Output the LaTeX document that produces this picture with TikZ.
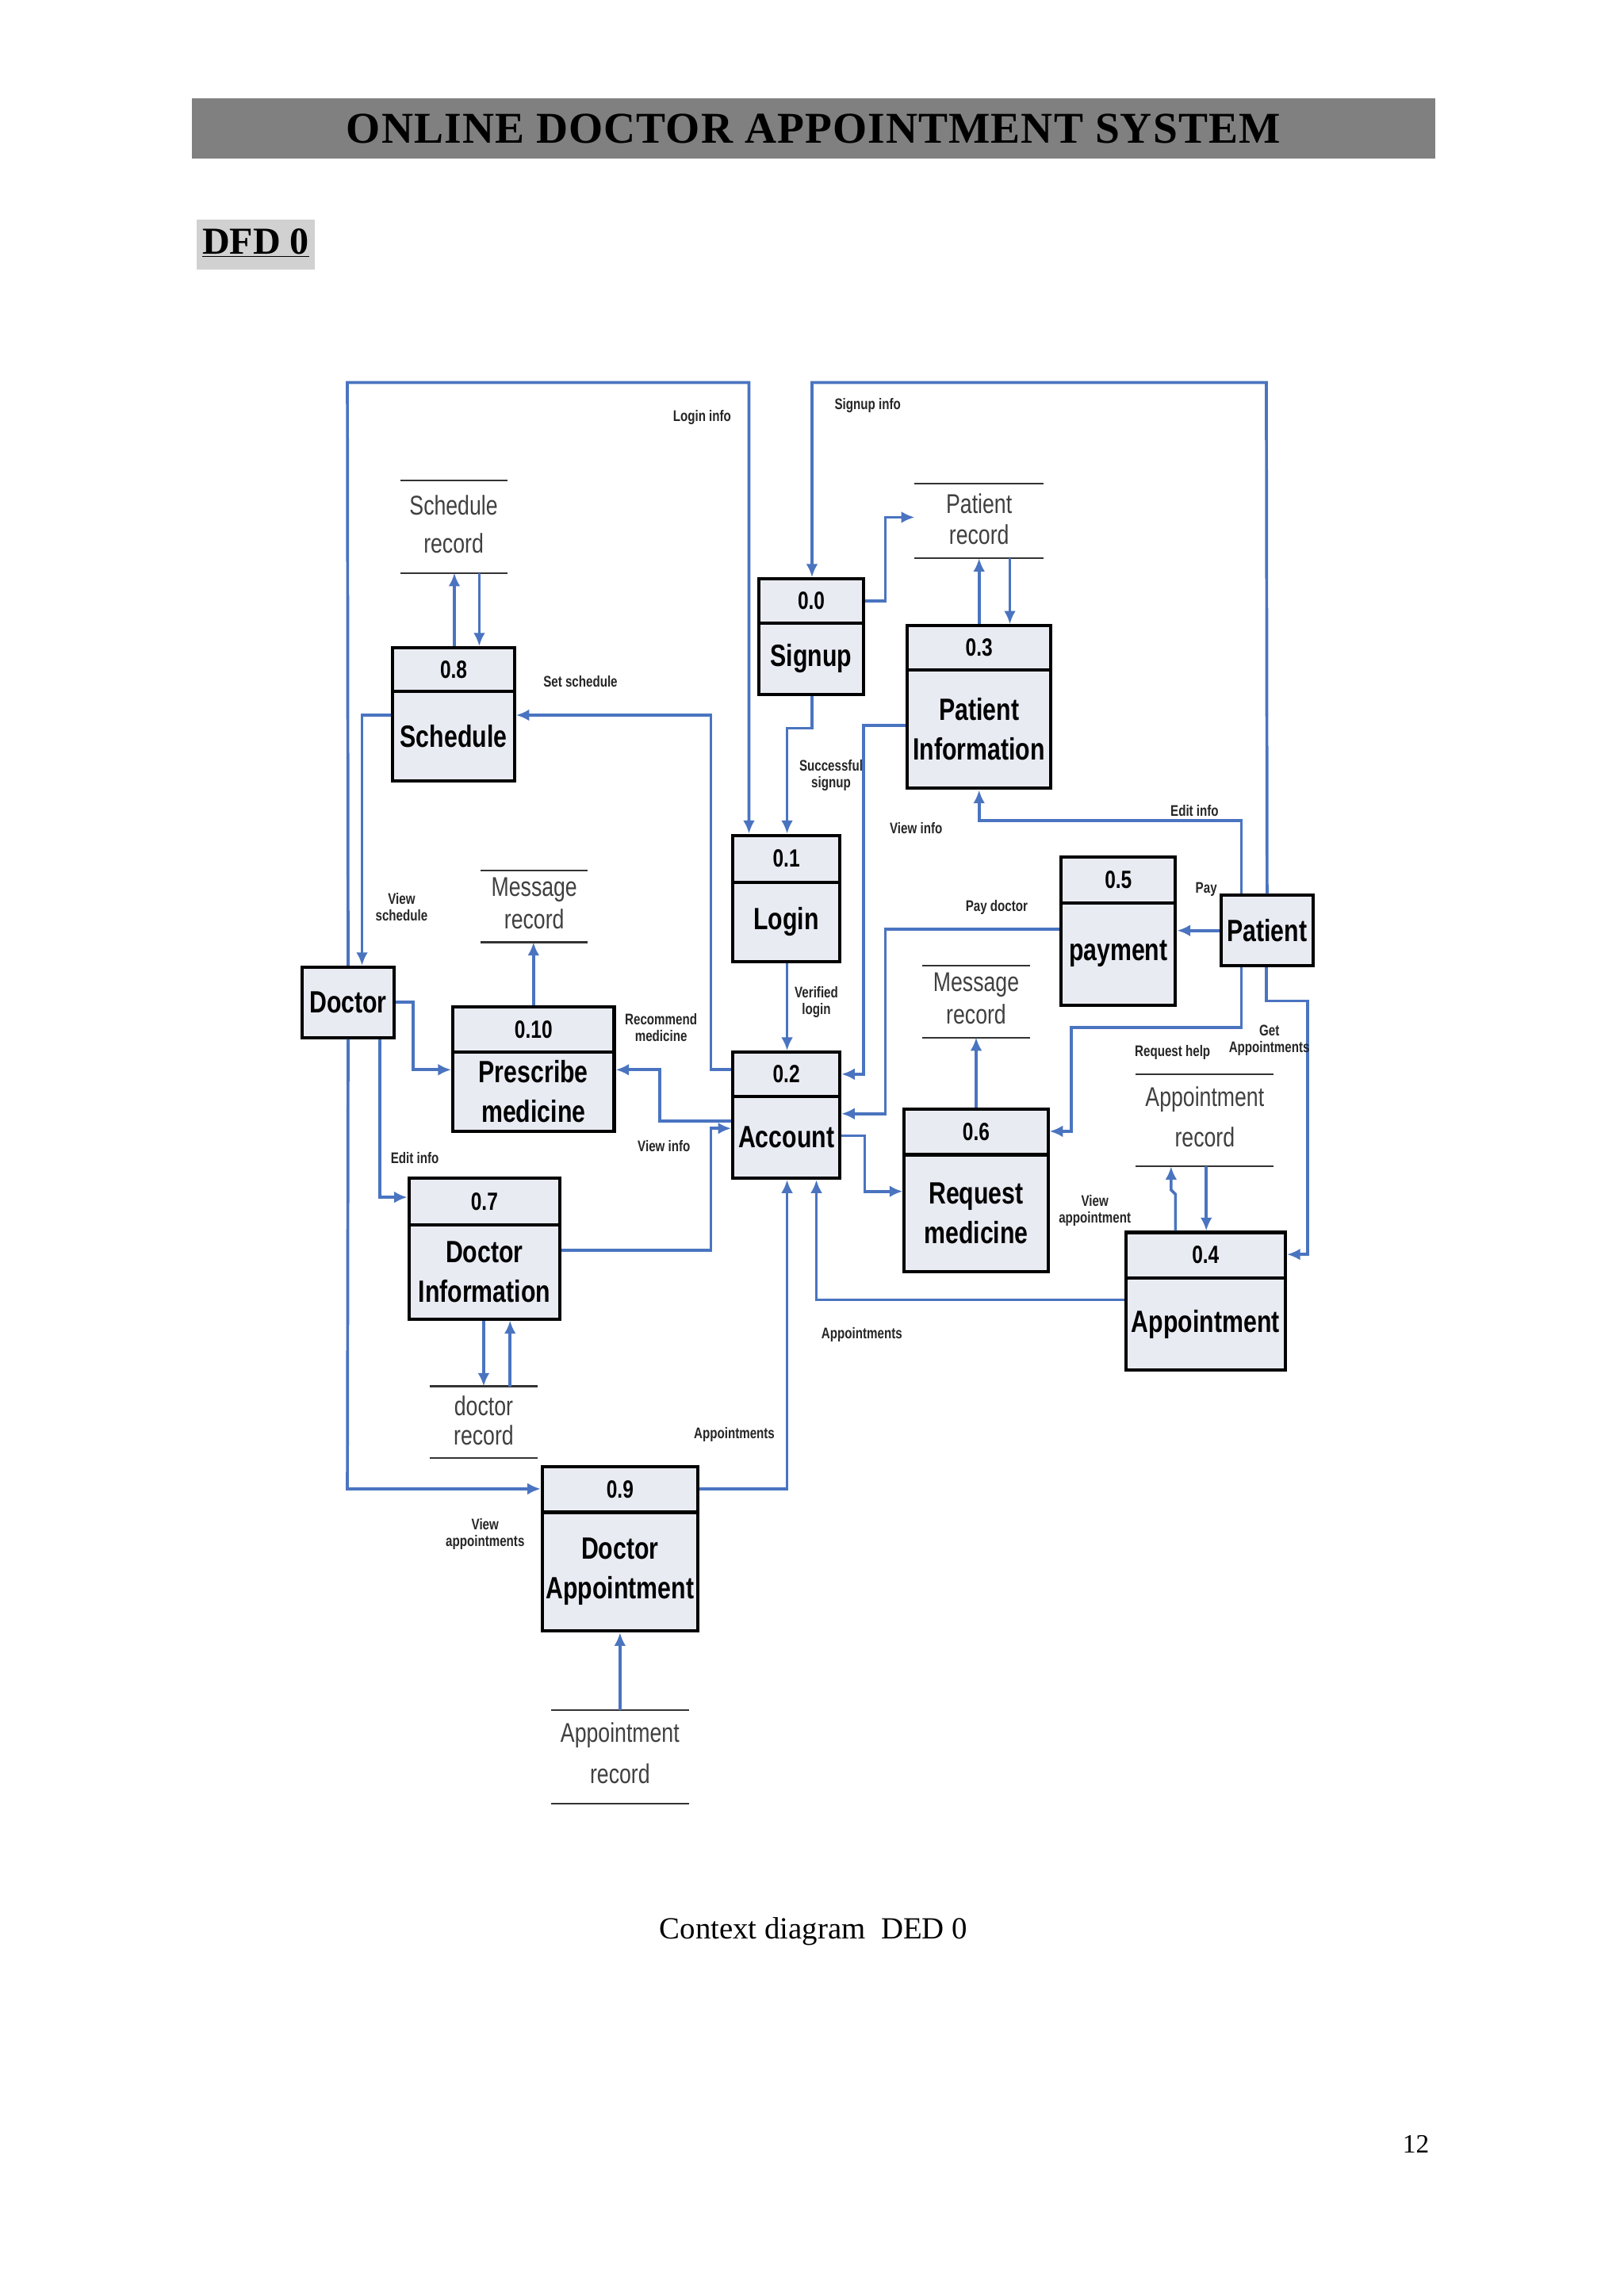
\documentclass[tikz,border=0pt]{standalone}
\usepackage{fontspec}
\setmainfont{Liberation Serif}
\newfontfamily\dsf{Liberation Sans}[FakeStretch=0.78]
\usetikzlibrary{arrows.meta,calc}
\definecolor{bl}{HTML}{4A74C0}
\definecolor{bx}{HTML}{E9EBF3}
\tikzset{
 box/.style={draw=black,line width=2.2pt,fill=bx,inner sep=0},
 ent/.style={draw=black,line width=2.2pt,fill=bx,inner sep=0,font=\dsf\bfseries\fontsize{21}{23}\selectfont},
 ln/.style={draw=bl,line width=2pt},
 ar/.style={ln,-{Latex[length=9pt,width=8pt]}},
 lab/.style={font=\dsf\bfseries\fontsize{10.5}{11.5}\selectfont,align=center,text=black!85},
 btxt/.style={font=\dsf\bfseries\fontsize{21}{27}\selectfont,align=center},
 htxt/.style={font=\dsf\bfseries\fontsize{17}{19}\selectfont},
 stxt/.style={font=\dsf\fontsize{18.5}{20}\selectfont,text=black!75},
 sl/.style={draw=black!80,line width=1.2pt}
}
\newcommand{\proc}[8]{% name x1 y1 x2 y2 split num text
 \node[box,minimum width={#4-#2},minimum height={#5-#3}] (#1) at ({(#2+#4)/2},{(#3+#5)/2}) {};
 \draw[line width=2.2pt] (#2,#6) -- (#4,#6);
 \node[htxt] at ({(#2+#4)/2},{(#3+#6)/2}) {#7};
 \node[btxt] at ({(#2+#4)/2},{(#6+#5)/2}) {#8};}
\newcommand{\store}[7]{% name x1 x2 y1 y2 line1 line2
 \coordinate (#1) at ({(#2+#3)/2},{(#4+#5)/2});
 \draw[sl] (#2,#4) -- (#3,#4); \draw[sl] (#2,#5) -- (#3,#5);
 \node[stxt] at ({(#2+#3)/2},{#4+(#5-#4)*0.27}) {#6};
 \node[stxt] at ({(#2+#3)/2},{#4+(#5-#4)*0.68}) {#7};}
\begin{document}
\begin{tikzpicture}[x=1pt,y=-1pt]
\useasboundingbox[fill=white] (0,0) rectangle (1108,1566.8);
% header
\fill[black!50] (131,67) rectangle (979,108);
\node[font=\bfseries\fontsize{30}{32}\selectfont] at (555,88) {\addfontfeature{LetterSpace=2}ONLINE DOCTOR APPOINTMENT SYSTEM};
\fill[black!18] (134,150) rectangle (215,184);
\node[font=\bfseries\fontsize{26}{28}\selectfont] (dfd) at (174.5,166) {\underline{DFD 0}};
% processes
\proc{sig}{518}{395}{589}{474}{425}{0.0}{Signup}
\proc{pin}{619}{427}{717}{538}{457}{0.3}{Patient\\Information}
\proc{sch}{268}{442}{351}{533}{472}{0.8}{Schedule}
\proc{log}{500}{570}{573}{656}{602}{0.1}{Login}
\proc{pay}{724}{585}{802}{686}{616}{0.5}{payment}
\proc{pre}{309}{687}{419}{772}{718}{0.10}{Prescribe\\medicine}
\proc{acc}{500}{718}{573}{804}{748}{0.2}{Account}
\proc{req}{617}{757}{715}{868}{788}{0.6}{Request\\medicine}
\proc{din}{279}{804}{382}{900}{836}{0.7}{Doctor\\Information}
\proc{app}{768}{841}{877}{935}{872}{0.4}{Appointment}
\proc{dap}{370}{1001}{476}{1113}{1032}{0.9}{Doctor\\Appointment}
\node[ent,minimum width=63pt,minimum height=48pt] (pat) at (864.5,635) {Patient};
\node[ent,minimum width=63pt,minimum height=48pt] (doc) at (237.5,684) {Doctor};
% stores
\store{ssr}{273}{346}{328}{391}{Schedule}{record}
\store{spr}{624}{712}{330}{381}{Patient}{record}
\store{sml}{328}{401}{594}{643}{Message}{record}
\store{smr}{629}{703}{659}{708}{Message}{record}
\store{sar}{775}{869}{733}{796}{Appointment}{record}
\store{sdr}{293}{367}{946}{995}{doctor}{record}
\store{sab}{376}{470}{1167}{1231}{Appointment}{record}
% connectors
\draw[ar] (doc.north) -- (237,261) -- (511,261) -- (log.north -| 511,0);
\node[lab] at (479,285) {Login info};
\draw[ar] (pat.north) -- (864,261) -- (554,261) -- (sig.north -| 554,0);
\node[lab] at (592,277) {Signup info};
\draw[ar] (sig.east |- 0,410) -- (604,410) -- (604,353) -- (624,353);
\draw[ar] (pin.north -| 668,0) -- (668,381);
\draw[ar] (689,381) -- (pin.north -| 689,0);
\draw[ar] (sch.north -| 310,0) -- (310,391);
\draw[ar] (327,391) -- (sch.north -| 327,0);
\draw[ar] (sig.south -| 554,0) -- (554,497) -- (537,497) -- (log.north -| 537,0);
\node[lab] at (567,529) {Successful\\signup};
\draw[ar] (acc.west |- 0,730) -- (485,730) -- (485,488) -- (sch.east |- 0,488);
\node[lab] at (396,465) {Set schedule};
\draw[ar] (sch.west |- 0,488) -- (247,488) -- (doc.north -| 247,0);
\node[lab] at (274,619) {View\\schedule};
\draw[ar] (pre.north -| 364,0) -- (364,643);
\draw[ar] (doc.east |- 0,684) -- (282,684) -- (282,730) -- (pre.west |- 0,730);
\draw[ar] (acc.west |- 0,765) -- (450,765) -- (450,730) -- (pre.east |- 0,730);
\node[lab] at (451,701) {Recommend\\medicine};
\draw[ar] (din.east |- 0,853) -- (485,853) -- (485,770) -- (acc.west |- 0,770);
\node[lab] at (453,782) {View info};
\draw[ar] (doc.south -| 259,0) -- (259,817) -- (din.west |- 0,817);
\node[lab] at (283,790) {Edit info};
\draw[ar] (din.south -| 330,0) -- (330,946);
\draw[ar] (348,946) -- (din.south -| 348,0);
\draw[ar] (doc.south) -- (237,1016) -- (dap.west |- 0,1016);
\node[lab] at (331,1047) {View\\appointments};
\draw[ar] (dap.east |- 0,1016) -- (537,1016) -- (acc.south -| 537,0);
\node[lab] at (501,979) {Appointments};
\draw[ar] (423,1167) -- (dap.south -| 423,0);
\draw[ar] (log.south -| 537,0) -- (acc.north -| 537,0);
\node[lab] at (557,684) {Verified\\login};
\draw[ar] (pin.west |- 0,495) -- (589,495) -- (589,733) -- (acc.east |- 0,733);
\node[lab] at (625,565) {View info};
\draw[ar] (pat.north -| 847,0) -- (847,560) -- (668,560) -- (pin.south -| 668,0);
\node[lab] at (815,553) {Edit info};
\draw[ar] (pat.west) -- (pay.east |- pat.west);
\node[lab] at (823,607) {Pay};
\draw[ar] (pay.west |- 0,634) -- (604,634) -- (604,760) -- (acc.east |- 0,760);
\node[lab] at (680,619) {Pay doctor};
\draw[ar] (req.north -| 666,0) -- (666,708);
\draw[ar] (acc.east |- 0,775) -- (590,775) -- (590,813) -- (req.west |- 0,813);
\draw[ar] (pat.south -| 847,0) -- (847,701) -- (731,701) -- (731,772) -- (req.east |- 0,772);
\node[lab] at (800,718) {Request help};
\draw[ar] (pat.south -| 864,0) -- (864,683) -- (892,683) -- (892,856) -- (app.east |- 0,856);
\node[lab] at (866,710) {Get\\Appointments};
\draw[ar] (app.north -| 802,0) -- (802,815) -- (799,812) -- (799,796);
\draw[ar] (823,796) -- (app.north -| 823,0);
\node[lab] at (747,826) {View\\appointment};
\draw[ar] (app.west |- 0,887) -- (557,887) -- (acc.south -| 557,0);
\node[lab] at (588,911) {Appointments};
% caption
\node[font=\fontsize{21}{23}\selectfont] at (555,1318) {Context diagram\ \ DED 0};
\node[font=\fontsize{18}{20}\selectfont] at (966,1463) {12};
\end{tikzpicture}
\end{document}
